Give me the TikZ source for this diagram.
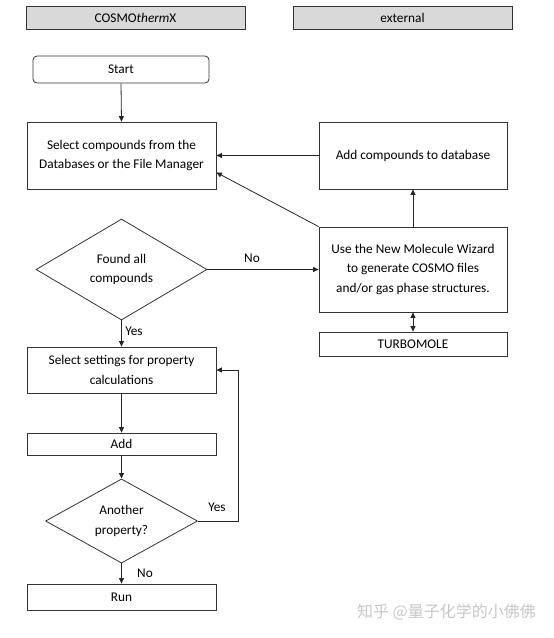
\documentclass[tikz,border=0pt]{standalone}
\usepackage{fontspec}
\setmainfont{Carlito}
\newfontfamily\cjk{Noto Sans CJK SC}
\usetikzlibrary{shapes.geometric,arrows.meta,calc}
\begin{document}
\begin{tikzpicture}[x=1pt,y=-1pt,
  every node/.style={font=\fontsize{13.3}{19.5}\selectfont, inner sep=0pt},
  box/.style={draw=black!80, line width=0.8pt, rectangle, align=center, minimum width=189pt},
  hdr/.style={draw=black!80, line width=0.8pt, fill=black!15, minimum width=219pt, minimum height=23pt},
  dia/.style={draw=black!80, line width=0.8pt, diamond, align=center},
  arr/.style={draw=black!85, line width=0.8pt, -{Triangle[length=5.5pt,width=5pt]}},
  lbl/.style={font=\fontsize{13.3}{15}\selectfont}]
\useasboundingbox (0,0) rectangle (554,638);
\node[hdr] (h1) at (135.5,17.5) {COSMO\textit{therm}X};
\node[hdr] (h2) at (402.5,17.5) {external};
\node[box, rounded corners=4pt, minimum width=176pt, minimum height=27pt] (start) at (121,69.5) {Start};
\node[box, minimum height=67pt] (sel) at (121.5,155.5) {Select compounds from the\\Databases or the File Manager};
\node[dia, minimum width=171pt, minimum height=101pt] (found) at (121.5,269.5) {Found all\\compounds};
\node[box, minimum width=188pt, minimum height=67pt] (addc) at (413,155.5) {Add compounds to database};
\node[box, minimum width=188pt, minimum height=85pt] (nmw) at (413,269.5) {Use the New Molecule Wizard\\to generate COSMO files\\and/or gas phase structures.};
\node[box, minimum width=188pt, minimum height=24pt] (turbo) at (413,344) {TURBOMOLE};
\node[box, minimum height=46pt] (set) at (121.5,370) {Select settings for property\\calculations};
\node[box, minimum height=22pt] (add) at (121.5,444) {Add};
\node[dia, minimum width=152pt, minimum height=84pt] (another) at (121.5,521) {Another\\property?};
\node[box, minimum height=26pt] (run) at (121.5,597) {Run};

\node[lbl] (no1) at (252,258) {No};
\node[lbl] (yes1) at (134,331) {Yes};
\node[lbl] (yes2) at (217,507) {Yes};
\node[lbl] (no2) at (145,573) {No};

\draw[arr] (start.south) -- (sel.north);
\draw[arr] (addc.west) -- (sel.east);
\draw[arr] (nmw.north west) -- ($(sel.south east)!0.25!(sel.north east)$);
\draw[arr] (found.east) -- (nmw.west);
\draw[arr] (nmw.north) -- (addc.south);
\draw[draw=black!85, line width=0.8pt, {Triangle[length=5.5pt,width=5pt]}-{Triangle[length=5.5pt,width=5pt]}] (nmw.south) -- (turbo.north);
\draw[arr] (found.south) -- (set.north);
\draw[arr] (set.south) -- (add.north);
\draw[arr] (add.south) -- (another.north);
\draw[arr] (another.east) -- ++(40,0) |- (set.east);
\draw[arr] (another.south) -- (run.north);

\node[font=\cjk\fontsize{16}{18}\selectfont, text=black!22] (wm) at (446.5,612) {知乎 @量子化学的小佛佛};
\end{tikzpicture}
\end{document}
